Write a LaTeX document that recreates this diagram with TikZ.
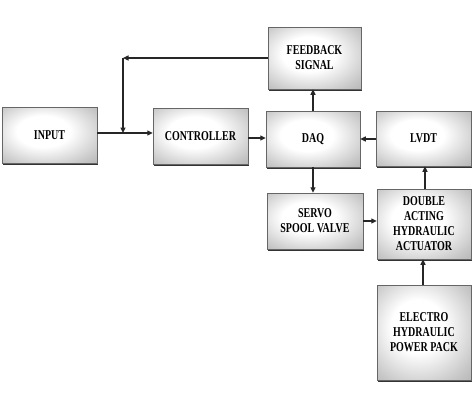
\documentclass[tikz,border=0pt]{standalone}
\usepackage{fontspec}
\setmainfont{Liberation Serif}
\newfontfamily\boxfont[FakeStretch=0.74]{Liberation Serif Bold}
\usetikzlibrary{shadows,arrows.meta}
\pgfdeclareradialshading{boxshade}{\pgfpoint{-4bp}{4bp}}{color(0bp)=(white); color(14bp)=(white); color(32bp)=(black!22); color(48bp)=(black!38); color(70bp)=(black!50)}
\tikzset{
  blk/.style={draw=gray!80!black, line width=0.5pt, shading=boxshade,
    drop shadow={shadow xshift=1pt, shadow yshift=-2pt, fill=black!80, opacity=1},
    align=center, inner sep=0pt, font=\boxfont\fontsize{13.5}{15}\selectfont},
  conn/.style={line width=1.1pt, draw=black!85, -{Triangle[length=5.5pt,width=5pt]}}
}
\begin{document}
\begin{tikzpicture}[x=1pt,y=-1pt]
\useasboundingbox (0,0) rectangle (474,405);
\node[blk, minimum width=93pt, minimum height=62pt] (fb) at (314.5,58) {FEEDBACK\\SIGNAL};
\node[blk, minimum width=95pt, minimum height=56pt] (in) at (49.5,135) {INPUT};
\node[blk, minimum width=95pt, minimum height=56pt] (ctrl) at (200.5,136) {CONTROLLER};
\node[blk, minimum width=94pt, minimum height=56pt] (daq) at (313,139) {DAQ};
\node[blk, minimum width=95pt, minimum height=55pt] (lvdt) at (423.5,138.5) {LVDT};
\node[blk, minimum width=96pt, minimum height=56pt] (servo) at (315,221) {SERVO\\SPOOL VALVE};
\node[blk, minimum width=94pt, minimum height=70pt] (dbl) at (424,224) {DOUBLE\\ACTING\\HYDRAULIC\\ACTUATOR};
\node[blk, minimum width=94pt, minimum height=95pt] (elec) at (424,332.5) {ELECTRO\\HYDRAULIC\\POWER PACK};
\coordinate (j1) at (123,58);
\coordinate (j2) at (123,133);
\draw[conn] (fb.west |- j1) -- (j1);
\draw[conn] (j1) -- (j2);
\draw[conn] (in.east |- j2) -- (ctrl.west |- j2);
\draw[conn] (ctrl.east |- 0,138) -- (daq.west |- 0,138);
\draw[conn] (lvdt.west |- 0,139) -- (daq.east |- 0,139);
\draw[conn] (daq.north) -- (daq.north |- fb.south);
\draw[conn] (daq.south) -- (servo.north -| daq.south);
\draw[conn] (servo.east |- 0,221) -- (dbl.west |- 0,221);
\draw[conn] (dbl.north -| 425,0) -- (lvdt.south -| 425,0);
\draw[conn] (elec.north -| 423,0) -- (dbl.south -| 423,0);
\end{tikzpicture}
\end{document}
